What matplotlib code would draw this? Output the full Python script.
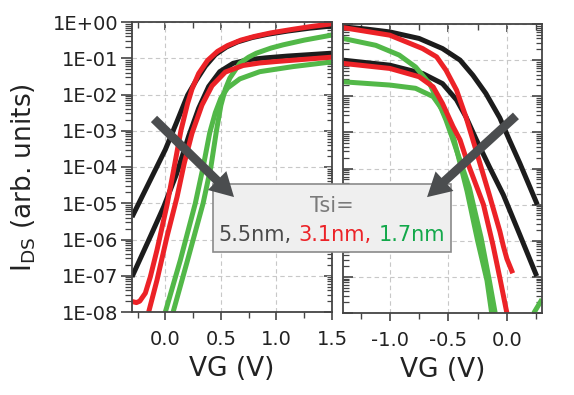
import numpy as np
import matplotlib.pyplot as plt
from matplotlib.patches import Rectangle, FancyArrowPatch
from matplotlib.offsetbox import TextArea, HPacker, AnnotationBbox
from matplotlib.ticker import FixedLocator, LogLocator, NullFormatter

plt.rcParams['font.family'] = ['DejaVu Sans']

# --- data: VG (V) and log10(IDS) ---
# left panel
nb_hi_v = [-0.3, -0.15, 0.0, 0.1, 0.2, 0.28, 0.36, 0.45, 0.55, 0.65, 0.78, 0.92, 1.1, 1.3, 1.5]
nb_hi_l = [-5.38, -4.45, -3.52, -2.78, -2.02, -1.6, -1.22, -0.9, -0.69, -0.55, -0.43, -0.34, -0.25, -0.17, -0.11]
nb_lo_v = [-0.3, -0.135, -0.015, 0.1, 0.21, 0.3, 0.39, 0.49, 0.61, 0.75, 0.9, 1.1, 1.3, 1.5]
nb_lo_l = [-7.03, -5.92, -5.1, -4.2, -3.15, -2.38, -1.78, -1.37, -1.14, -1.04, -0.99, -0.94, -0.9, -0.86]
nr_hi_v = [-0.3, -0.26, -0.23, -0.18, -0.135, -0.075, 0.015, 0.08, 0.14, 0.2, 0.24, 0.3, 0.38, 0.47,
           0.56, 0.68, 0.8, 0.95, 1.15, 1.3, 1.5]
nr_hi_l = [-7.71, -7.74, -7.7, -7.48, -7.03, -6.29, -5.05, -4.0, -3.0, -2.25, -1.85, -1.42, -1.06, -0.81,
           -0.65, -0.5, -0.4, -0.3, -0.2, -0.13, -0.05]
nr_lo_v = [-0.15, -0.075, 0.015, 0.106, 0.17, 0.24, 0.33, 0.42, 0.54, 0.7, 0.85, 1.0, 1.25, 1.5]
nr_lo_l = [-8.0, -7.12, -5.92, -4.82, -3.9, -3.07, -2.29, -1.76, -1.38, -1.2, -1.13, -1.09, -1.03, -0.97]
ng_lo_v = [0.0, 0.135, 0.27, 0.34, 0.4, 0.45, 0.5, 0.56, 0.67, 0.85, 1.15, 1.5]
ng_lo_l = [-8.0, -6.57, -5.0, -4.0, -3.05, -2.5, -2.1, -1.82, -1.57, -1.37, -1.23, -1.1]
ng_hi_v = [0.07, 0.2, 0.34, 0.41, 0.46, 0.5, 0.54, 0.58, 0.67, 0.75, 0.82, 0.95, 1.06, 1.25, 1.5]
ng_hi_l = [-8.0, -6.57, -5.0, -4.0, -3.0, -2.3, -1.85, -1.55, -1.14, -0.97, -0.86, -0.72, -0.63, -0.5, -0.36]

# right panel
pb_hi_v = [-1.4, -1.2, -1.0, -0.75, -0.55, -0.4, -0.29, -0.18, -0.06, 0.02, 0.11, 0.26]
pb_hi_l = [-0.08, -0.14, -0.22, -0.4, -0.68, -1.0, -1.42, -1.92, -2.6, -3.2, -3.85, -5.0]
pb_lo_v = [-1.4, -1.0, -0.72, -0.55, -0.43, -0.35, -0.26, -0.15, -0.03, 0.11, 0.255]
pb_lo_l = [-1.0, -1.14, -1.37, -1.65, -2.1, -2.57, -3.21, -3.95, -4.73, -5.83, -6.98]
pr_hi_v = [-1.4, -1.0, -0.72, -0.6, -0.52, -0.43, -0.35, -0.29, -0.15, -0.06, -0.03, 0.0, 0.05]
pr_hi_l = [-0.1, -0.31, -0.68, -0.91, -1.28, -1.83, -2.57, -3.21, -4.73, -5.74, -6.15, -6.5, -6.9]
pr_lo_v = [-1.4, -1.0, -0.75, -0.63, -0.55, -0.46, -0.4, -0.34, -0.2, -0.12, -0.06, 0.0]
pr_lo_l = [-1.09, -1.23, -1.46, -1.74, -2.2, -2.84, -3.21, -3.8, -5.0, -6.1, -7.03, -8.0]
pg_hi_v = [-1.4, -1.12, -0.92, -0.78, -0.66, -0.58, -0.52, -0.46, -0.32, -0.22, -0.15, -0.1]
pg_hi_l = [-0.4, -0.59, -0.86, -1.19, -1.65, -2.2, -2.66, -3.21, -4.54, -5.92, -7.1, -8.0]
pg_lo_v = [-1.4, -1.0, -0.78, -0.63, -0.55, -0.49, -0.45, -0.34, -0.25, -0.17, -0.13]
pg_lo_l = [-1.6, -1.69, -1.78, -2.01, -2.38, -2.84, -3.21, -4.63, -6.0, -7.1, -8.0]
pg_tail_v = [0.23, 0.3]
pg_tail_l = [-8.0, -7.62]

ytick_vals = [-8, -7, -6, -5, -4, -3, -2, -1, 0]
ytick_labels = ['1E-08', '1E-07', '1E-06', '1E-05', '1E-04', '1E-03', '1E-02', '1E-01', '1E+00']

BLACK = '#1c1c1c'
RED = '#ec2227'
GREEN = '#52b848'
lw = 3.6

fig = plt.figure(figsize=(5.74, 3.95), dpi=100)
ax1 = fig.add_axes([132/574, 83/395, 200/574, 290/395])
ax2 = fig.add_axes([343/574, 82/395, 199/574, 289/395])

left_curves = [(nb_hi_v, nb_hi_l, BLACK), (nb_lo_v, nb_lo_l, BLACK),
               (ng_hi_v, ng_hi_l, GREEN), (ng_lo_v, ng_lo_l, GREEN),
               (nr_hi_v, nr_hi_l, RED), (nr_lo_v, nr_lo_l, RED)]
right_curves = [(pb_hi_v, pb_hi_l, BLACK), (pb_lo_v, pb_lo_l, BLACK),
                (pg_hi_v, pg_hi_l, GREEN), (pg_lo_v, pg_lo_l, GREEN),
                (pg_tail_v, pg_tail_l, GREEN),
                (pr_hi_v, pr_hi_l, RED), (pr_lo_v, pr_lo_l, RED)]


def log_ticks(axis):
    axis.set_major_locator(FixedLocator([10.0**k for k in ytick_vals]))
    axis.set_minor_locator(LogLocator(base=10, subs=np.arange(2, 10), numticks=20))
    axis.set_minor_formatter(NullFormatter())


for ax, curves in [(ax1, left_curves), (ax2, right_curves)]:
    for v, l, c in curves:
        ax.plot(v, 10.0**np.array(l), color=c, lw=lw, solid_capstyle='butt', solid_joinstyle='round')
    ax.set_yscale('log')
    ax.set_ylim(1e-8, 1)
    log_ticks(ax.yaxis)
    ax.grid(True, which='major', ls=(0, (4, 3)), color='#c8c8c8', lw=0.8)
    for s in ax.spines.values():
        s.set_color('#444444')
        s.set_linewidth(1.3)
    ax.tick_params(which='both', colors='#444444', labelcolor='#222222', labelsize=14)
    ax.tick_params(axis='x', which='major', direction='out', length=6, width=1.2, pad=7)
    ax.tick_params(axis='x', which='minor', direction='out', length=4, width=1.0)

ax1.set_xlim(-0.3, 1.5)
x1_major = [0.0, 0.5, 1.0, 1.5]
x1_minor = [-0.25, 0.25, 0.75, 1.25]
ax1.set_xticks(x1_major)
ax1.set_xticklabels(['0.0', '0.5', '1.0', '1.5'])
ax1.set_xticks(x1_minor, minor=True)
ax1.set_yticklabels(ytick_labels)
ax1.tick_params(axis='y', which='major', direction='out', length=8, width=1.2, pad=2)
ax1.tick_params(axis='y', which='minor', direction='out', length=5, width=0.9)

sec = ax1.secondary_yaxis('right')
sec.set_yscale('log')
log_ticks(sec.yaxis)
sec.tick_params(which='both', direction='in', labelright=False, colors='#444444')
sec.tick_params(which='major', length=6, width=1.2)
sec.tick_params(which='minor', length=3.5, width=0.9)
sec.spines['right'].set_visible(False)

ax2.set_xlim(-1.4, 0.3)
x2_major = [-1.0, -0.5, 0.0]
x2_minor = [-1.25, -0.75, -0.25, 0.25]
ax2.set_xticks(x2_major)
ax2.set_xticklabels(['-1.0', '-0.5', '0.0'])
ax2.set_xticks(x2_minor, minor=True)
ax2.tick_params(axis='y', which='both', direction='in', left=True, right=True, labelleft=False)
ax2.tick_params(axis='y', which='major', length=7, width=1.2)
ax2.tick_params(axis='y', which='minor', length=4, width=0.9)

# inward ticks along the top edges
for ax, maj, mnr in [(ax1, x1_major, x1_minor), (ax2, x2_major, x2_minor)]:
    top = ax.secondary_xaxis('top')
    top.set_xticks(maj)
    top.set_xticks(mnr, minor=True)
    top.tick_params(which='both', direction='in', labeltop=False, colors='#444444')
    top.tick_params(which='major', length=6, width=1.2)
    top.tick_params(which='minor', length=4, width=1.0)
    top.spines['top'].set_visible(False)

ax1.set_xlabel('VG (V)', fontsize=19, color='#222222', labelpad=5)
ax2.set_xlabel('VG (V)', fontsize=19, color='#222222', labelpad=5)
fig.text(24/574, 1 - 178/395, r'I$_{\mathrm{DS}}$ (arb. units)', rotation=90,
         fontsize=19, color='#222222', ha='center', va='center')

# legend box
fig.add_artist(Rectangle((213/574, 1 - 252/395), 238/574, 68/395, transform=fig.transFigure,
                         fc='#efefef', ec='#8a8a8a', lw=1.2, zorder=3))
fig.text(332/574, 1 - 206/395, 'Tsi=', fontsize=15, color='#7a7a7a',
         ha='center', va='center', zorder=4)
parts = [TextArea('5.5nm,', textprops=dict(fontsize=15, color='#4a4a4a')),
         TextArea('3.1nm,', textprops=dict(fontsize=15, color=RED)),
         TextArea('1.7nm', textprops=dict(fontsize=15, color='#12a84a'))]
row = HPacker(children=parts, align='baseline', pad=0, sep=5)
ab = AnnotationBbox(row, (332/574, 1 - 235/395), xycoords='figure fraction',
                    frameon=False, box_alignment=(0.5, 0.5), zorder=4)
fig.add_artist(ab)

# arrows
for start, end in [((152, 117), (236, 199)), ((518, 114), (425, 199))]:
    arr = FancyArrowPatch((start[0]/574, 1 - start[1]/395), (end[0]/574, 1 - end[1]/395),
                          transform=fig.transFigure,
                          arrowstyle='simple,head_width=0.95,head_length=0.85,tail_width=0.32',
                          mutation_scale=20, color='#4b4d4f', lw=0, zorder=5)
    fig.add_artist(arr)

fig.savefig('out.png', dpi=100)
